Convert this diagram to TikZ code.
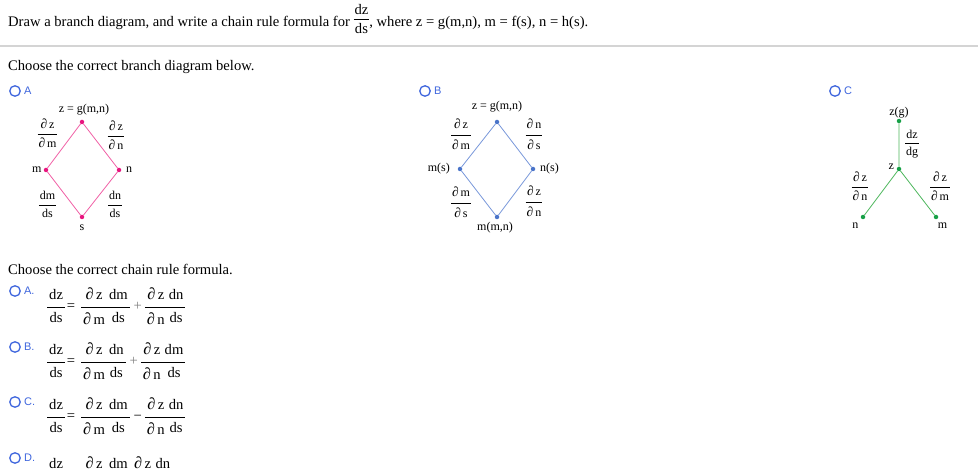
\documentclass[tikz,border=0pt]{standalone}
\usepackage{fontspec}
\setmainfont{Liberation Serif}
\newfontfamily\choicefont{Liberation Sans}
\usetikzlibrary{positioning}

\definecolor{radioblue}{HTML}{3F66DD}
\definecolor{pinkdot}{HTML}{E8157F}
\definecolor{pinkline}{HTML}{F05FA5}
\definecolor{bluedot}{HTML}{4A74C9}
\definecolor{blueline}{HTML}{7897DA}
\definecolor{greendot}{HTML}{17A047}
\definecolor{greenline}{HTML}{4CB65C}
\definecolor{rulegray}{HTML}{D4D4D4}

% stacked fraction: optional gap above/below the bar
\newcommand{\fstrut}{\rule[-0.12em]{0pt}{0.84em}}
\newcommand{\frc}[3][3pt]{\ensuremath{\vcenter{\offinterlineskip
    \halign{\hfil\hskip1pt##\hskip1pt\hfil\cr
      \fstrut#2\cr
      \noalign{\kern#1\hrule height0.6pt\kern#1}
      \fstrut#3\cr}}}}
\newcommand{\rfrac}[2]{\frc[5pt]{\hskip1pt#1\hskip1pt}{\hskip1pt#2\hskip1pt}}
\newcommand{\pd}{\scalebox{1.12}{∂}\,}

\tikzset{
  vtx/.style={circle, fill=#1, inner sep=0pt, minimum size=4.5pt},
  branch/.style={draw=#1, line width=0.8pt},
  vlabel/.style={font=\fontsize{12}{14}\selectfont, inner sep=0pt},
  elabel/.style={font=\fontsize{12}{14}\selectfont, inner sep=0pt},
  radio/.style={circle, draw=radioblue, line width=1.3pt, minimum size=10.5pt, inner sep=0pt},
  choice/.style={font=\choicefont\fontsize{11}{13}\selectfont, text=radioblue, inner sep=0pt},
  prose/.style={font=\fontsize{14.6}{17}\selectfont, inner sep=0pt, anchor=base west},
  formula/.style={font=\fontsize{14.6}{17}\selectfont, inner sep=0pt, anchor=west}
}

\begin{document}
\begin{tikzpicture}[x=1pt, y=-1pt]
\useasboundingbox (0,0) rectangle (978,470);
\clip (0,0) rectangle (978,470);

% question
\node[prose] (question) at (8,27) {Draw a branch diagram, and write a chain rule formula for \raisebox{3.9pt}{\frc[3pt]{dz}{ds}}, where z = g(m,n), m = f(s), n = h(s).};
\draw[rulegray, line width=1.5pt] (0,46) -- (978,46);
\node[prose] (branchq) at (8,71) {Choose the correct branch diagram below.};

% choice A
\node[radio] (radioA) at (15,91) {};
\node[choice, right=3pt of radioA] (choiceA) {A};
\node[vtx=pinkdot] (zA) at (82,122) {};
\node[vtx=pinkdot] (mA) at (46,170) {};
\node[vtx=pinkdot] (nA) at (119,170) {};
\node[vtx=pinkdot] (sA) at (82,217) {};
\draw[branch=pinkline] (zA) -- (mA) -- (sA) -- (nA) -- (zA);
\node[vlabel, above=4pt of zA, xshift=2pt] (zlabA) {z = g(m,n)};
\node[vlabel, left=2pt of mA] (mlabA) {m};
\node[vlabel, right=4.5pt of nA] (nlabA) {n};
\node[vlabel, below=5pt of sA] (slabA) {s};
\node[elabel] (dzdmA) at (47.5,134) {\frc[3.5pt]{\pd z}{\pd m}};
\node[elabel] (dzdnA) at (116,136) {\frc[3.5pt]{\pd z}{\pd n}};
\node[elabel] (dmdsA) at (47.5,205) {\frc[3.5pt]{dm}{ds}};
\node[elabel] (dndsA) at (115,205) {\frc[3.5pt]{dn}{ds}};

% choice B
\node[radio] (radioB) at (425,91) {};
\node[choice, right=3pt of radioB] (choiceB) {B};
\node[vtx=bluedot] (zB) at (497,122) {};
\node[vtx=bluedot] (mB) at (460,169) {};
\node[vtx=bluedot] (nB) at (533,169) {};
\node[vtx=bluedot] (sB) at (497,217) {};
\draw[branch=blueline] (zB) -- (mB) -- (sB) -- (nB) -- (zB);
\node[vlabel, above=7pt of zB] (zlabB) {z = g(m,n)};
\node[vlabel, left=7.5pt of mB] (mlabB) {m(s)};
\node[vlabel, right=4.5pt of nB] (nlabB) {n(s)};
\node[vlabel, below=2.5pt of sB, xshift=-2pt] (slabB) {m(m,n)};
\node[elabel] (dzdmB) at (461,135) {\frc[5pt]{\pd z}{\pd m}};
\node[elabel] (dndsB) at (534,135) {\frc[5pt]{\pd n}{\pd s}};
\node[elabel] (dmdsB) at (461,203) {\frc[5pt]{\pd m}{\pd s}};
\node[elabel] (dzdnB) at (534,202) {\frc[5pt]{\pd z}{\pd n}};

% choice C
\node[radio] (radioC) at (835,91) {};
\node[choice, right=3pt of radioC] (choiceC) {C};
\node[vtx=greendot] (gC) at (899,121) {};
\node[vtx=greendot] (zC) at (899,169) {};
\node[vtx=greendot] (nC) at (863,217) {};
\node[vtx=greendot] (mC) at (936,217) {};
\draw[branch=greenline] (gC) -- (zC) -- (nC) (zC) -- (mC);
\node[vlabel, above=0.5pt of gC] (glabC) {z(g)};
\node[vlabel, left=2.4pt of zC, yshift=2pt] (zlabC) {z};
\node[vlabel, below left=4pt and 2.7pt of nC] (nlabC) {n};
\node[vlabel, below right=4pt and 0pt of mC] (mlabC) {m};
\node[elabel] (dzdgC) at (912,144) {\frc[3.5pt]{dz}{dg}};
\node[elabel] (dzdnC) at (860,187) {\frc[3.5pt]{\pd z}{\pd n}};
\node[elabel] (dzdmC) at (940,187) {\frc[3.5pt]{\pd z}{\pd m}};

% chain rule choices
\node[prose] (chainq) at (8,275) {Choose the correct chain rule formula.};
\node[radio] (radioRA) at (15,291) {};
\node[choice, right=3pt of radioRA] (choiceRA) {A.};
\node[formula] (ruleA) at (47,307) {\rfrac{dz}{ds}\hskip2pt=\hskip6pt\rfrac{\pd z}{\pd m}\rfrac{dm}{ds}\hskip4pt{\color{gray}+}\hskip3pt\rfrac{\pd z}{\pd n}\rfrac{dn}{ds}};
\node[radio] (radioRB) at (15,347) {};
\node[choice, right=3pt of radioRB] (choiceRB) {B.};
\node[formula] (ruleB) at (47,362) {\rfrac{dz}{ds}\hskip2pt=\hskip6pt\rfrac{\pd z}{\pd m}\rfrac{dn}{ds}\hskip4pt{\color{gray}+}\hskip3pt\rfrac{\pd z}{\pd n}\rfrac{dm}{ds}};
\node[radio] (radioRC) at (15,402) {};
\node[choice, right=3pt of radioRC] (choiceRC) {C.};
\node[formula] (ruleC) at (47,417) {\rfrac{dz}{ds}\hskip2pt=\hskip6pt\rfrac{\pd z}{\pd m}\rfrac{dm}{ds}\hskip4pt−\hskip3pt\rfrac{\pd z}{\pd n}\rfrac{dn}{ds}};
\node[radio] (radioRD) at (15,458) {};
\node[choice, right=3pt of radioRD] (choiceRD) {D.};
\node[formula] (ruleD) at (47,476) {\rfrac{dz}{ds}\hskip2pt=\hskip6pt\rfrac{\pd z}{\pd m}\rfrac{dm}{ds}\hskip2pt\rfrac{\pd z}{\pd n}\rfrac{dn}{ds}};
\end{tikzpicture}
\end{document}
